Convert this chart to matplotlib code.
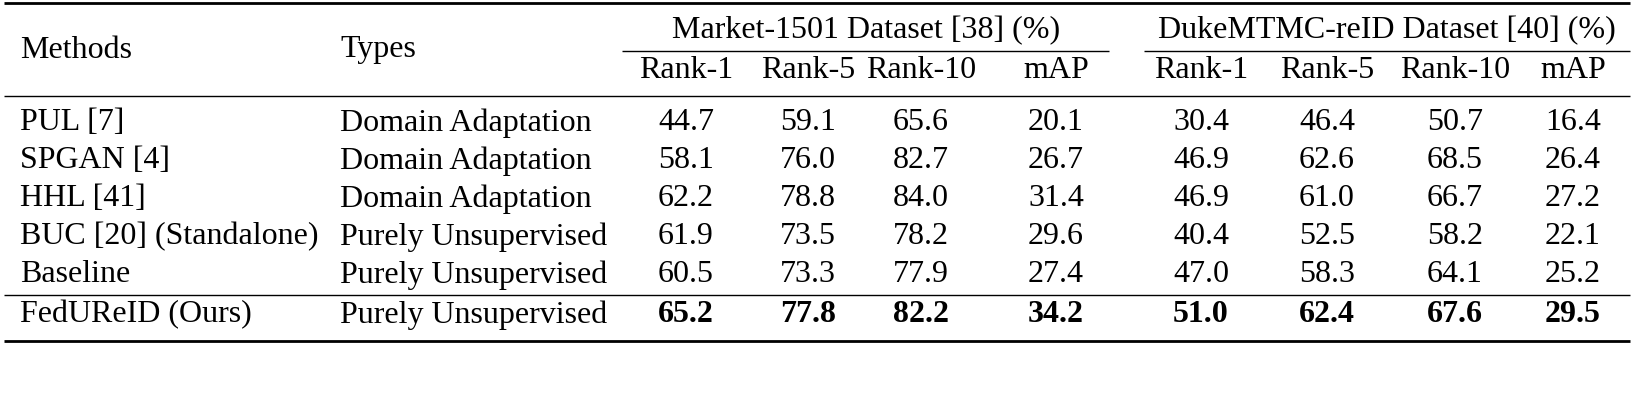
import matplotlib.pyplot as plt

methods = ["PUL [7]", "SPGAN [4]", "HHL [41]", "BUC [20] (Standalone)", "Baseline", "FedUReID (Ours)"]
types = ["Domain Adaptation", "Domain Adaptation", "Domain Adaptation",
         "Purely Unsupervised", "Purely Unsupervised", "Purely Unsupervised"]
market = [[44.7, 59.1, 65.6, 20.1], [58.1, 76.0, 82.7, 26.7], [62.2, 78.8, 84.0, 31.4],
          [61.9, 73.5, 78.2, 29.6], [60.5, 73.3, 77.9, 27.4], [65.2, 77.8, 82.2, 34.2]]
duke = [[30.4, 46.4, 50.7, 16.4], [46.9, 62.6, 68.5, 26.4], [46.9, 61.0, 66.7, 27.2],
        [40.4, 52.5, 58.2, 22.1], [47.0, 58.3, 64.1, 25.2], [51.0, 62.4, 67.6, 29.5]]
metrics = ["Rank-1", "Rank-5", "Rank-10", "mAP"]

plt.rcParams['font.family'] = ['Liberation Serif', 'DejaVu Serif']
fig = plt.figure(figsize=(16.34, 4.16), dpi=100)
ax = fig.add_axes([0, 0, 1, 1])
ax.set_xlim(0, 1634)
ax.set_ylim(416, 0)
ax.axis("off")

fs = 23
mx = [686, 808, 921, 1056]
dx = [1201, 1327, 1455, 1573]

# rules
ax.hlines(3, 4, 1630, color="black", lw=2)
ax.hlines(96, 4, 1630, color="black", lw=1)
ax.hlines(295, 4, 1630, color="black", lw=1)
ax.hlines(341, 4, 1630, color="black", lw=2)
ax.hlines(51, 622, 1109, color="black", lw=1)
ax.hlines(51, 1144, 1630, color="black", lw=1)

ax.text(20, 50, "Methods", fontsize=fs, va="center")
ax.text(340, 50, "Types", fontsize=fs, va="center")
ax.text(866, 31, "Market-1501 Dataset [38] (%)", fontsize=fs, va="center", ha="center")
ax.text(1387, 31, "DukeMTMC-reID Dataset [40] (%)", fontsize=fs, va="center", ha="center")
for x, m in zip(mx + dx, metrics + metrics):
    ax.text(x, 70, m, fontsize=fs, va="center", ha="center")

row_y = [123, 161, 199, 237, 275, 315]
for i, y in enumerate(row_y):
    w = "bold" if i == len(row_y) - 1 else "normal"
    ax.text(20, y, methods[i], fontsize=fs, va="center")
    ax.text(340, y, types[i], fontsize=fs, va="center")
    for x, v in zip(mx + dx, market[i] + duke[i]):
        ax.text(x, y, f"{v:.1f}", fontsize=fs, va="center", ha="center", weight=w)

fig.savefig("out.png", dpi=100)
